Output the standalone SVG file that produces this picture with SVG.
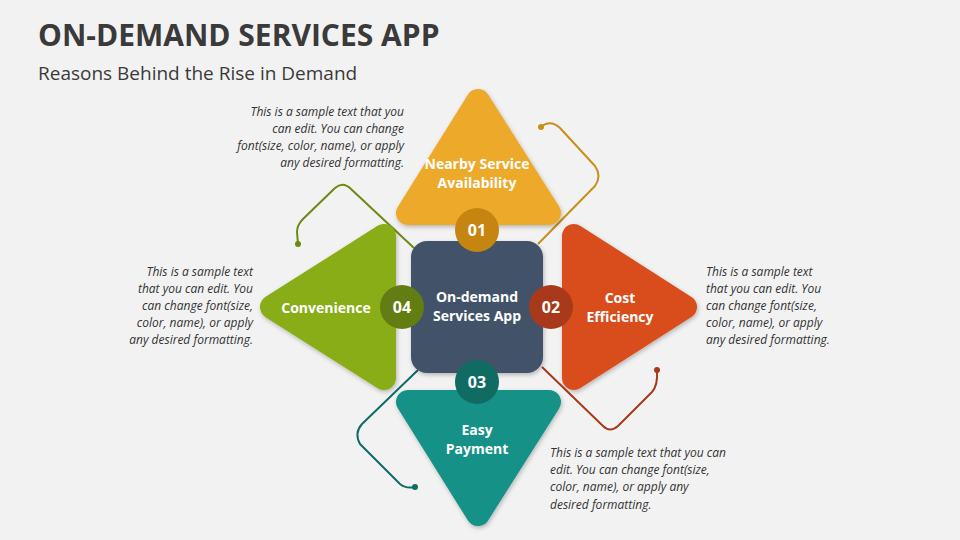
<svg xmlns="http://www.w3.org/2000/svg" width="960" height="540" viewBox="0 0 960 540">
<defs>
<style>
.tri{stroke-width:24;stroke-linejoin:round;filter:url(#sh)}
.lbl{font-family:"Open Sans","Liberation Sans",sans-serif;font-weight:bold;font-size:14px;fill:#fff;text-anchor:middle}
.num{font-family:"Open Sans","Liberation Sans",sans-serif;font-weight:bold;font-size:16px;fill:#fff;text-anchor:middle}
.desc{font-family:"Open Sans","Liberation Sans",sans-serif;font-style:italic;font-size:12px;fill:#333}
.con{fill:none;stroke-width:2;stroke-linejoin:round}
</style>
<filter id="sh" x="-20%" y="-20%" width="140%" height="140%"><feDropShadow dx="1" dy="2" stdDeviation="2" flood-opacity="0.25"/></filter>
</defs>
<rect width="960" height="540" fill="#f2f2f2"/>
<text x="38" y="46" font-family="'Open Sans','Liberation Sans',sans-serif" font-weight="bold" font-size="30" fill="#3a3a3a">ON-DEMAND SERVICES APP</text>
<text x="38" y="80" font-family="'Open Sans','Liberation Sans',sans-serif" font-size="19" fill="#3a3a3a">Reasons Behind the Rise in Demand</text>
<g id="connectors">
<path class="con" stroke="#C8901A" d="M541,127 Q550,119 560,128 L595,166 Q602,176 595,186 L538,244"/>
<circle cx="541" cy="127" r="3" fill="#C8901A"/>
<path class="con" stroke="#6B8A12" d="M298,244 L297,232 Q297,225 303,219 L335,188 Q343,181 351,189 L414,248"/>
<circle cx="298" cy="244" r="3" fill="#6B8A12"/>
<path class="con" stroke="#106B63" d="M418,370 L362,424 Q354,433 360,444 L400,484 Q406,489 415,487"/>
<circle cx="415" cy="487" r="3" fill="#106B63"/>
<path class="con" stroke="#A8391A" d="M542,367 L603,426 Q610,433 618,426 L652,392 Q658,385 657,371"/>
<circle cx="657" cy="370" r="3" fill="#A8391A"/>
</g>
<g id="node1"><polygon class="tri" fill="#EDA92A" stroke="#EDA92A" points="478,101 408,213 549,213"/>
<text class="lbl" x="477" y="169">Nearby Service</text><text class="lbl" x="477" y="188">Availability</text></g>
<g id="node2"><polygon class="tri" fill="#D94E1E" stroke="#D94E1E" points="574,236 574,378 685,307"/>
<text class="lbl" x="620" y="303">Cost</text><text class="lbl" x="620" y="322">Efficiency</text></g>
<g id="node3"><polygon class="tri" fill="#139187" stroke="#139187" points="408,402 549,402 478,514"/>
<text class="lbl" x="477" y="435">Easy</text><text class="lbl" x="477" y="454">Payment</text></g>
<g id="node4"><polygon class="tri" fill="#88AD14" stroke="#88AD14" points="384,236 384,378 272,307"/>
<text class="lbl" x="326" y="313">Convenience</text></g>
<g id="center"><rect x="411" y="241" width="132" height="132" rx="16" fill="#435369" filter="url(#sh)"/>
<text class="lbl" x="477" y="302">On-demand</text><text class="lbl" x="477" y="321">Services App</text></g>
<g id="badge1"><circle cx="477" cy="230" r="22" fill="#C58510"/><text class="num" x="477" y="236">01</text></g>
<g id="badge2"><circle cx="551" cy="307" r="22" fill="#A8391A"/><text class="num" x="551" y="313">02</text></g>
<g id="badge3"><circle cx="477" cy="382" r="22" fill="#106B63"/><text class="num" x="477" y="388">03</text></g>
<g id="badge4"><circle cx="402" cy="307" r="22" fill="#627D12"/><text class="num" x="402" y="313">04</text></g>
<g id="text1" class="desc" text-anchor="end">
<text x="404" y="116">This is a sample text that you</text>
<text x="404" y="133">can edit. You can change</text>
<text x="404" y="150">font(size, color, name), or apply</text>
<text x="404" y="167">any desired formatting.</text></g>
<g id="text4" class="desc" text-anchor="end">
<text x="253" y="276">This is a sample text</text>
<text x="253" y="293">that you can edit. You</text>
<text x="253" y="310">can change font(size,</text>
<text x="253" y="327">color, name), or apply</text>
<text x="253" y="344">any desired formatting.</text></g>
<g id="text2" class="desc">
<text x="706" y="276">This is a sample text</text>
<text x="706" y="293">that you can edit. You</text>
<text x="706" y="310">can change font(size,</text>
<text x="706" y="327">color, name), or apply</text>
<text x="706" y="344">any desired formatting.</text></g>
<g id="text3" class="desc">
<text x="550" y="457">This is a sample text that you can</text>
<text x="550" y="474">edit. You can change font(size,</text>
<text x="550" y="491">color, name), or apply any</text>
<text x="550" y="509">desired formatting.</text></g>
</svg>
